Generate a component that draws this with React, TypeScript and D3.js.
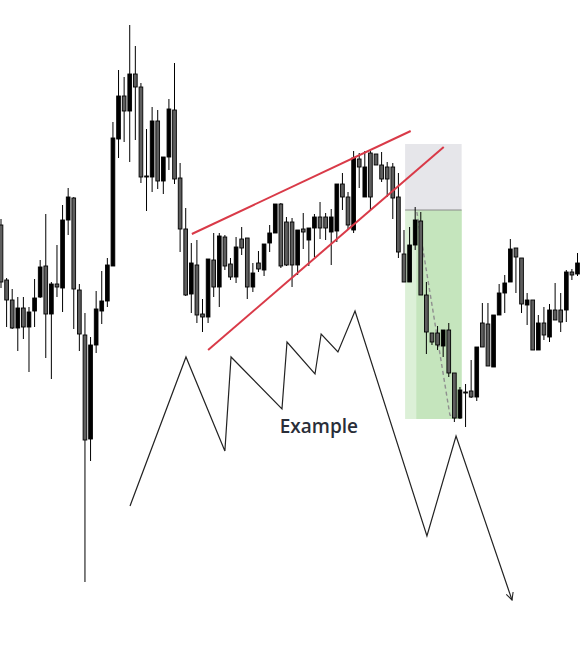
import * as d3 from "d3";
import { useEffect, useRef } from "react";

// candle prices, left to right
const opens = [426, 371, 351, 323, 343, 324, 340, 354, 385, 337, 367, 363, 431, 453, 361, 316, 212, 306, 340, 350, 385, 512, 555, 540, 577, 564, 475, 474, 530, 470, 494, 541, 473, 422, 357, 386, 337, 334, 391, 364, 414, 387, 374, 412, 413, 364, 388, 381, 408, 418, 447, 429, 429, 386, 422, 411, 423, 434, 434, 419, 420, 467, 454, 421, 492, 454, 498, 497, 486, 484, 484, 454, 397, 369, 406, 430, 356, 318, 318, 305, 321, 278, 233, 259, 260, 254, 328, 327, 284, 336, 358, 369, 403, 393, 346, 351, 301, 328, 314, 341, 341, 341, 379, 377];
const highs = [432, 373, 362, 354, 354, 344, 372, 391, 437, 369, 406, 446, 463, 454, 367, 338, 314, 360, 380, 393, 529, 581, 574, 626, 605, 568, 522, 544, 541, 494, 552, 588, 488, 443, 408, 411, 352, 392, 418, 418, 416, 393, 414, 424, 413, 388, 400, 407, 426, 447, 448, 434, 433, 421, 438, 423, 437, 449, 438, 442, 467, 478, 459, 500, 498, 500, 500, 497, 499, 489, 488, 478, 421, 424, 444, 439, 369, 318, 325, 321, 328, 278, 264, 267, 291, 304, 348, 348, 336, 367, 376, 412, 403, 393, 358, 351, 336, 344, 347, 368, 358, 381, 382, 398];
const lows = [363, 324, 322, 300, 312, 279, 324, 353, 293, 272, 354, 339, 416, 322, 300, 69, 190, 298, 327, 344, 385, 493, 509, 489, 511, 468, 440, 459, 462, 457, 481, 467, 399, 355, 338, 328, 319, 328, 354, 344, 381, 371, 368, 396, 352, 359, 379, 375, 399, 418, 383, 385, 364, 376, 402, 385, 394, 412, 411, 386, 409, 441, 421, 418, 463, 454, 441, 486, 469, 454, 432, 393, 369, 369, 401, 356, 297, 306, 301, 294, 274, 229, 232, 224, 253, 250, 304, 285, 284, 336, 338, 369, 358, 338, 326, 301, 301, 311, 309, 331, 319, 329, 371, 375];
const closes = [369, 351, 323, 343, 324, 339, 353, 384, 337, 367, 364, 431, 454, 362, 317, 211, 306, 342, 350, 386, 513, 555, 540, 577, 564, 474, 474, 530, 470, 494, 542, 472, 422, 356, 388, 336, 334, 392, 364, 415, 385, 374, 404, 403, 364, 378, 382, 407, 418, 447, 385, 386, 386, 421, 419, 423, 434, 423, 423, 434, 467, 454, 426, 493, 484, 484, 454, 486, 472, 472, 453, 399, 369, 406, 431, 356, 319, 309, 306, 321, 278, 233, 261, 258, 254, 304, 304, 285, 336, 358, 368, 402, 394, 347, 351, 301, 328, 316, 341, 331, 329, 379, 376, 388];

// rising wedge trendlines [index, price]
const upperLine = [[34.1, 417], [73.2, 520]];
const lowerLine = [[37.0, 301], [79.1, 504]];

// short position box
const boxLeft = 72.2;
const boxInner = 74.2;
const boxRight = 82.3;
const stopPrice = 507;
const entryPrice = 441;
const targetPrice = 232;
const tradePath = [[74.3, 439], [80.2, 236], [81.3, 233]];

// schematic zigzag under the candles
const zigzag = [
  [23.05, 145], [33.05, 294], [40.0, 200], [41.1, 294], [50.2, 242], [51.1, 309],
  [56.1, 277], [57.2, 317], [60.2, 299], [63.25, 340], [76.1, 115], [81.3, 215], [91.3, 51],
];
const label = "Example";
const labelAt = [49.8, 218];

const App = () => {
  const svgRef = useRef(null);
  const width = 584;
  const height = 651;

  useEffect(() => {
    const svg = d3.select(svgRef.current);
    svg.selectAll("*").remove();

    const x = d3.scaleLinear().domain([0, opens.length - 1]).range([1, 577.5]);
    const y = d3.scaleLinear().domain([0, 651]).range([651, 0]);
    const bodyW = 3.7;

    const defs = svg.append("defs");
    defs
      .append("marker")
      .attr("id", "arrow")
      .attr("viewBox", "0 0 10 10")
      .attr("refX", 9)
      .attr("refY", 5)
      .attr("markerWidth", 9)
      .attr("markerHeight", 9)
      .attr("markerUnits", "userSpaceOnUse")
      .attr("orient", "auto")
      .append("path")
      .attr("d", "M1,1 L9,5 L1,9")
      .attr("fill", "none")
      .attr("stroke", "#222")
      .attr("stroke-width", 1.2);

    // position boxes
    svg
      .append("rect")
      .attr("x", x(boxLeft))
      .attr("y", y(stopPrice))
      .attr("width", x(boxRight) - x(boxLeft))
      .attr("height", y(entryPrice) - y(stopPrice))
      .attr("fill", "#e6e6ea");
    svg
      .append("rect")
      .attr("x", x(boxLeft))
      .attr("y", y(entryPrice))
      .attr("width", x(boxRight) - x(boxLeft))
      .attr("height", y(targetPrice) - y(entryPrice))
      .attr("fill", "#dcf0d7");
    svg
      .append("rect")
      .attr("x", x(boxInner))
      .attr("y", y(entryPrice))
      .attr("width", x(boxRight) - x(boxInner))
      .attr("height", y(targetPrice) - y(entryPrice))
      .attr("fill", "#c5e5bd");
    svg
      .append("line")
      .attr("x1", x(boxLeft))
      .attr("x2", x(boxRight))
      .attr("y1", y(entryPrice))
      .attr("y2", y(entryPrice))
      .attr("stroke", "#8a8a8a")
      .attr("stroke-width", 1);

    const line = d3
      .line()
      .x((d: any) => x(d[0]))
      .y((d: any) => y(d[1]));

    svg
      .append("path")
      .datum(tradePath)
      .attr("d", line as any)
      .attr("fill", "none")
      .attr("stroke", "#8f8f8f")
      .attr("stroke-width", 1.4)
      .attr("stroke-dasharray", "4,3");

    // candles
    const g = svg.append("g");
    const candles = g
      .selectAll("g.candle")
      .data(opens.map((o, i) => ({ i, o, h: highs[i], l: lows[i], c: closes[i] })))
      .join("g");

    candles
      .append("line")
      .attr("x1", (d) => x(d.i))
      .attr("x2", (d) => x(d.i))
      .attr("y1", (d) => y(d.h))
      .attr("y2", (d) => y(d.l))
      .attr("stroke", "#000")
      .attr("stroke-width", 1);

    candles
      .append("rect")
      .attr("x", (d) => x(d.i) - bodyW / 2)
      .attr("y", (d) => y(Math.max(d.o, d.c)))
      .attr("width", bodyW)
      .attr("height", (d) => Math.max(1, Math.abs(y(d.o) - y(d.c))))
      .attr("fill", (d) => (d.c > d.o ? "#000" : "#5e5e5e"))
      .attr("stroke", "#000")
      .attr("stroke-width", 0.9);

    // wedge lines
    [upperLine, lowerLine].forEach((pts) => {
      svg
        .append("path")
        .datum(pts)
        .attr("d", line as any)
        .attr("fill", "none")
        .attr("stroke", "#d93a48")
        .attr("stroke-width", 2);
    });

    svg
      .append("path")
      .datum(zigzag)
      .attr("d", line as any)
      .attr("fill", "none")
      .attr("stroke", "#222")
      .attr("stroke-width", 1.2)
      .attr("marker-end", "url(#arrow)");

    svg
      .append("text")
      .attr("x", x(labelAt[0]))
      .attr("y", y(labelAt[1]))
      .attr("font-family", "'Open Sans', sans-serif")
      .attr("font-weight", 600)
      .attr("font-size", 19)
      .attr("fill", "#2a2e39")
      .text(label);
  }, []);

  return (
    <svg
      ref={svgRef}
      width={width}
      height={height}
      style={{ position: "absolute", left: 0, top: 0, background: "#fff" }}
    />
  );
};

export default App;
